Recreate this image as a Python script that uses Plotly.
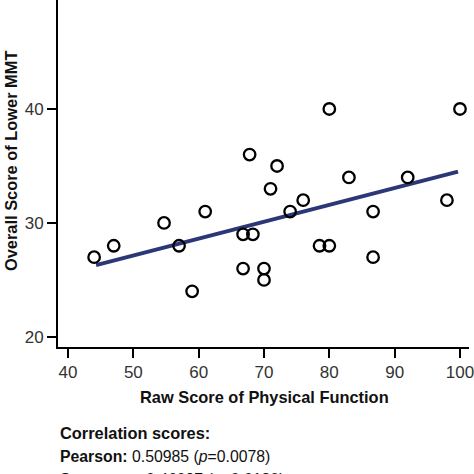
import plotly.graph_objects as go

raw_score = [44, 47, 54.7, 57, 59, 61, 66.8, 66.8, 67.8, 68.3, 70, 70, 71, 72, 74, 76, 78.5, 80, 80, 83, 86.7, 86.7, 92, 98, 100]
mmt_score = [27, 28, 30, 28, 24, 31, 29, 26, 36, 29, 26, 25, 33, 35, 31, 32, 28, 28, 40, 34, 31, 27, 34, 32, 40]
fit_x = [44.3, 99.7]
fit_y = [26.3, 34.5]
x_ticks = [40, 50, 60, 70, 80, 90, 100]
y_ticks = [20, 30, 40]

W, H = 474, 474
L, R, T, B = 58, 5, 0, 127
ph = H - T - B
pw = W - L - R

def py(p):
    return (H - B - p) / ph

def px(p):
    return (p - L) / pw

fig = go.Figure()
fig.add_trace(go.Scatter(x=fit_x, y=fit_y, mode="lines",
                         line=dict(color="#2c3777", width=4), showlegend=False))
fig.add_trace(go.Scatter(x=raw_score, y=mmt_score, mode="markers",
                         marker=dict(symbol="circle-open", size=11.5, color="black",
                                     line=dict(width=2.3, color="black")),
                         showlegend=False))

font = "Liberation Sans, Arial, sans-serif"
fig.update_layout(
    width=W, height=H,
    margin=dict(l=L, r=R, t=T, b=B),
    paper_bgcolor="white", plot_bgcolor="white",
    font=dict(family=font, color="#333"),
    xaxis=dict(range=[38.47, 101.38], tickvals=x_ticks, ticks="outside", ticklen=9,
               tickwidth=2, tickcolor="black", showline=True, linecolor="black", linewidth=2,
               showgrid=False, zeroline=False, tickfont=dict(size=17, color="#333"),
               ticklabeloverflow="allow"),
    yaxis=dict(range=[19.12, 49.56], tickvals=y_ticks, ticks="outside", ticklen=9,
               tickwidth=2, tickcolor="black", showline=True, linecolor="black", linewidth=2,
               showgrid=False, zeroline=False, tickfont=dict(size=17, color="#333")),
)

ann = [
    dict(text="<b>Raw Score of Physical Function</b>", x=px(264), y=py(397),
         xanchor="center", yanchor="middle", font=dict(size=16.4, color="#111")),
    dict(text="<b>Overall Score of Lower MMT</b>", x=px(11), y=py(161), textangle=-90,
         xanchor="center", yanchor="middle", font=dict(size=16.4, color="#111")),
    dict(text="<b>Correlation scores:</b>", x=px(58), y=py(433),
         xanchor="left", yanchor="middle", font=dict(size=16.4, color="#111")),
    dict(text="<b>Pearson:</b> 0.50985 (<i>p</i>=0.0078)", x=px(58), y=py(456),
         xanchor="left", yanchor="middle", font=dict(size=15.8, color="#111")),
    dict(text="<b>Spearman:</b> 0.46097 (<i>p</i>=0.0180)", x=px(58), y=py(479),
         xanchor="left", yanchor="middle", font=dict(size=15.8, color="#111")),
]
for a in ann:
    a.update(xref="paper", yref="paper", showarrow=False)
fig.update_layout(annotations=ann)

fig.write_html("out.html")
